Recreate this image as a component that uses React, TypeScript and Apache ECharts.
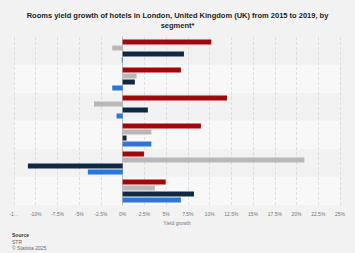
import React, { useEffect, useRef } from "react";
import * as echarts from "echarts";

// Hotel segments (top to bottom)
const segments = ["Luxury", "Upper upscale", "Upscale", "Upper midscale", "Midscale", "Economy"];

// Yield growth per segment, in percent
const years = ["2016", "2017", "2018", "2019"];
const growth2016 = [10.2, 6.7, 12.0, 9.0, 2.45, 4.95];
const growth2017 = [-1.2, 1.6, -3.3, 3.3, 20.9, 3.7];
const growth2018 = [7.05, 1.4, 2.9, 0.45, -10.9, 8.2];
const growth2019 = [-0.1, -1.2, -0.7, 3.3, -4.0, 6.7];

const seriesColors = ["#a3070c", "#b8b8b8", "#0f2942", "#2a76dc"];

// Value axis ticks and their labels
const tickValues = [-12.5, -10, -7.5, -5, -2.5, 0, 2.5, 5, 7.5, 10, 12.5, 15, 17.5, 20, 22.5, 25];
const tickLabels = ["-1…", "-10%", "-7.5%", "-5%", "-2.5%", "0%", "2.5%", "5%", "7.5%", "10%", "12.5%", "15%", "17.5%", "20%", "22.5%", "25%"];

export default function App() {
  const ref = useRef<HTMLDivElement>(null);

  useEffect(() => {
    if (!ref.current) return;
    const chart = echarts.init(ref.current, undefined, { renderer: "svg" });
    const allSeries = [growth2016, growth2017, growth2018, growth2019];
    chart.setOption({
      animation: false,
      backgroundColor: "#f2f2f2",
      title: {
        text: "Rooms yield growth of hotels in London, United Kingdom (UK) from 2015 to 2019, by\nsegment*",
        left: "center",
        top: 5,
        textStyle: {
          fontFamily: "Liberation Sans, Arial, sans-serif",
          fontSize: 7.5,
          fontWeight: "bold",
          color: "#222",
          lineHeight: 10,
        },
      },
      graphic: [
        {
          type: "text",
          left: 12,
          top: 232,
          style: { text: "Source", font: "bold 5px Liberation Sans, Arial, sans-serif", fill: "#333" },
        },
        {
          type: "text",
          left: 12,
          top: 239,
          style: { text: "STR", font: "5px Liberation Sans, Arial, sans-serif", fill: "#666" },
        },
        {
          type: "text",
          left: 12,
          top: 245,
          style: { text: "© Statista 2025", font: "5px Liberation Sans, Arial, sans-serif", fill: "#666" },
        },
      ],
      grid: { left: 14, right: 15, top: 37, bottom: 48, containLabel: false },
      xAxis: {
        type: "value",
        min: -12.5,
        max: 25,
        interval: 2.5,
        name: "Yield growth",
        nameLocation: "middle",
        nameGap: 15,
        nameTextStyle: { fontSize: 5, color: "#777", fontFamily: "Liberation Sans, Arial, sans-serif" },
        axisLine: { show: false },
        axisTick: { show: false },
        axisLabel: {
          fontSize: 5,
          color: "#777",
          margin: 6,
          fontFamily: "Liberation Sans, Arial, sans-serif",
          formatter: (v: number) => {
            const i = tickValues.findIndex((t) => Math.abs(t - v) < 1e-6);
            return i >= 0 ? tickLabels[i] : "";
          },
        },
        splitLine: { show: true, lineStyle: { color: "#d8d8d8", type: [3, 2], width: 0.8 } },
      },
      yAxis: {
        type: "category",
        data: segments,
        inverse: true,
        axisLabel: { show: false },
        axisTick: { show: false },
        axisLine: { show: true, onZero: true, lineStyle: { color: "#bbb", width: 1 } },
        splitArea: { show: true, areaStyle: { color: ["#f2f2f2", "#f8f8f8"] } },
      },
      series: allSeries.map((data, i) => ({
        name: years[i],
        type: "bar",
        data,
        barWidth: 5,
        barGap: "20%",
        itemStyle: { color: seriesColors[i] },
      })),
    });
    return () => chart.dispose();
  }, []);

  return <div ref={ref} style={{ width: 355, height: 253, position: "absolute", left: 0, top: 0 }} />;
}
